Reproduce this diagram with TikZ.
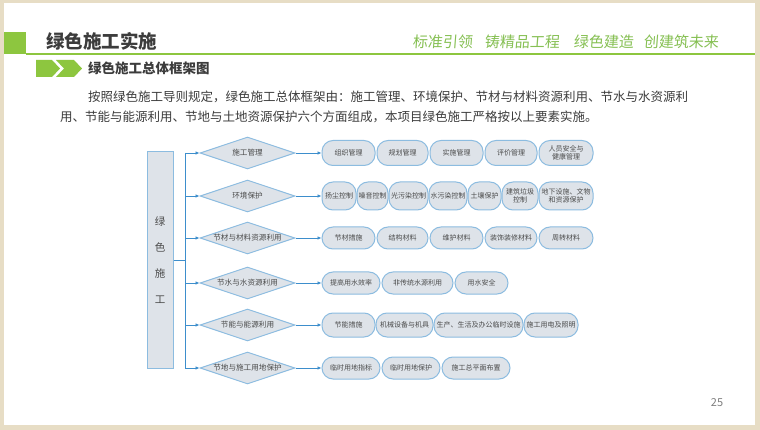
\documentclass[tikz,border=0pt]{standalone}
\usepackage{fontspec}
\setmainfont{Noto Sans CJK SC}
\newfontfamily\slogfont{Noto Sans CJK SC}[FakeSlant=0.08]
\usetikzlibrary{shapes.geometric,arrows.meta}
\definecolor{bgbeige}{HTML}{E7DDC5}
\definecolor{hgreen}{HTML}{8DC63F}
\definecolor{sgreen}{HTML}{86C053}
\definecolor{ablue}{HTML}{3D8ECC}
\definecolor{bblue}{HTML}{8CBCE0}
\definecolor{pfill}{HTML}{DEE3E9}
\definecolor{tgray}{HTML}{3C3C3C}
\definecolor{pgray}{HTML}{4A4A4A}
\newcommand\mypill[6]{\node[pillbox, minimum width={(#3-#2)*1pt}, minimum height=#5pt] (#1) at ({(#2+#3)/2},#4) {#6};}
\begin{document}
\begin{tikzpicture}[x=1pt,y=-1pt,
  pillbox/.style={rectangle, rounded corners=11pt, draw=bblue, line width=1pt, fill=pfill, inner sep=0pt, font=\fontsize{7}{8.5}\selectfont, text=pgray, align=center},
  dmd/.style={diamond, draw=bblue, line width=1pt, fill=pfill, inner sep=0pt, minimum width=95pt, minimum height=32pt, aspect=3, font=\fontsize{7.6}{9}\selectfont, text=pgray},
  arr/.style={draw=ablue, line width=0.9pt, -{Latex[length=4pt,width=3.6pt]}},
  trunkline/.style={draw=ablue, line width=0.9pt},
]
\useasboundingbox (0,0) rectangle (760,430);
\fill[bgbeige] (0,0) rectangle (760,430);
\fill[white] (4,3) rectangle (755,425);

% header
\fill[hgreen] (4,32) rectangle (26,54);
\fill[hgreen] (26,53) rectangle (755,55.5);
\node[anchor=west, inner sep=0pt, font=\fontsize{18.5}{20}\selectfont\bfseries, text=tgray] (title) at (46,41) {绿色施工实施};
\node[inner sep=0pt, font=\slogfont\fontsize{15}{17}\selectfont, text=sgreen] (slogan) at (565.5,42) {标准引领\hspace{12pt}铸精品工程\hspace{14pt}绿色建造\hspace{10pt}创建筑未来};

% subtitle
\fill[hgreen] (36,60) -- (52,60) -- (60,68.5) -- (52,77) -- (36,77) -- cycle;
\fill[hgreen] (56,60) -- (74,60) -- (82,68.5) -- (74,77) -- (56,77) -- (64,68.5) -- cycle;
\node[anchor=west, inner sep=0pt, font=\fontsize{13.5}{15}\selectfont\bfseries, text=tgray] (subtitle) at (88,68) {绿色施工总体框架图};

% paragraph
\node[anchor=west, inner sep=0pt, font=\fontsize{12.5}{14}\selectfont, text=tgray] (para1) at (88,97) {按照绿色施工导则规定，绿色施工总体框架由：施工管理、环境保护、节材与材料资源利用、节水与水资源利};
\node[anchor=west, inner sep=0pt, font=\fontsize{12.5}{14}\selectfont, text=tgray] (para2) at (60,117) {用、节能与能源利用、节地与土地资源保护六个方面组成，本项目绿色施工严格按以上要素实施。};

% left box
\node[rectangle, draw=bblue, line width=1pt, fill=pfill, minimum width=26pt, minimum height=216pt, inner sep=0pt, align=center, font=\fontsize{10.5}{26}\selectfont, text=pgray] (gbox) at (160,260) {绿\\色\\施\\工};

% diamonds
\node[dmd] (d1) at (247.5,153) {施工管理};
\node[dmd] (d2) at (247.5,196) {环境保护};
\node[dmd] (d3) at (247.5,238) {节材与材料资源利用};
\node[dmd] (d4) at (247.5,283) {节水与水资源利用};
\node[dmd] (d5) at (247.5,325) {节能与能源利用};
\node[dmd] (d6) at (247.5,368) {节地与施工用地保护};

% trunk
\coordinate (j0) at (185,260);
\coordinate (t1) at (185,153);
\coordinate (t2) at (185,196);
\coordinate (t3) at (185,238);
\coordinate (t4) at (185,283);
\coordinate (t5) at (185,325);
\coordinate (t6) at (185,368);
\draw[trunkline] (gbox.east) -- (j0);
\draw[trunkline] (t1) -- (t6);
\foreach \i in {1,...,6} { \draw[arr] (t\i) -- (d\i.west); }

% row 1
\mypill{p11}{322}{375}{153}{25}{组织管理}
\mypill{p12}{377}{428}{153}{25}{规划管理}
\mypill{p13}{430}{483}{153}{25}{实施管理}
\mypill{p14}{485}{537}{153}{25}{评价管理}
\mypill{p15}{539}{593}{153}{25}{人员安全与\\健康管理}
% row 2
\mypill{p21}{322}{356}{196}{28}{扬尘控制}
\mypill{p22}{357}{388}{196}{28}{噪音控制}
\mypill{p23}{389}{428}{196}{28}{光污染控制}
\mypill{p24}{429}{467}{196}{28}{水污染控制}
\mypill{p25}{468}{501}{196}{28}{土壤保护}
\mypill{p26}{502}{538}{196}{28}{建筑垃圾\\控制}
\mypill{p27}{539}{593}{196}{28}{地下设施、文物\\和资源保护}
% row 3
\mypill{p31}{322}{375}{238}{22}{节材措施}
\mypill{p32}{377}{428}{238}{22}{结构材料}
\mypill{p33}{430}{483}{238}{22}{维护材料}
\mypill{p34}{485}{537}{238}{22}{装饰装修材料}
\mypill{p35}{539}{593}{238}{22}{周转材料}
% row 4
\mypill{p41}{322}{380}{283}{22}{提高用水效率}
\mypill{p42}{382}{453}{283}{22}{非传统水源利用}
\mypill{p43}{455}{508}{283}{22}{用水安全}
% row 5
\mypill{p51}{322}{375}{325}{24}{节能措施}
\mypill{p52}{376}{433}{325}{24}{机械设备与机具}
\mypill{p53}{434}{523}{325}{24}{生产、生活及办公临时设施}
\mypill{p54}{524}{578}{325}{24}{施工用电及照明}
% row 6
\mypill{p61}{322}{380}{368}{22}{临时用地指标}
\mypill{p62}{382}{440}{368}{22}{临时用地保护}
\mypill{p63}{442}{510}{368}{22}{施工总平面布置}

\foreach \i in {1,...,6} { \draw[arr] (d\i.east) -- (p\i1.west); }

% page number
\node[inner sep=0pt, font=\fontsize{11}{12}\selectfont, text=gray] (pnum) at (717,403) {25};
\end{tikzpicture}
\end{document}
